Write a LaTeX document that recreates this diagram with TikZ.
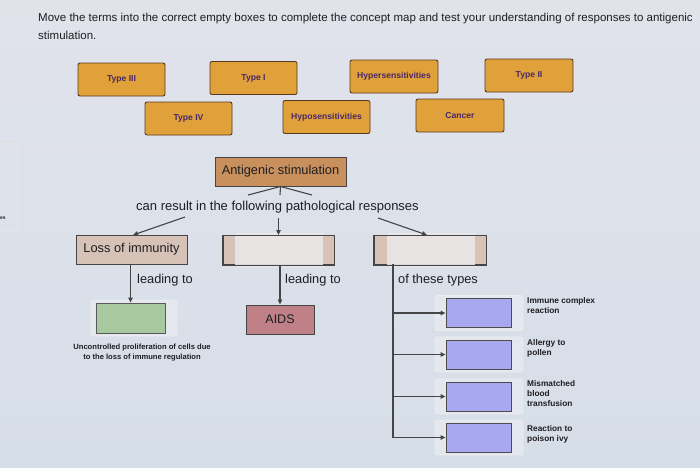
\documentclass[tikz,border=0pt]{standalone}
\usepackage{fontspec}
\setmainfont{Liberation Sans}
\usetikzlibrary{arrows.meta}
\definecolor{bgtop}{HTML}{E1E3EB}
\definecolor{bgbot}{HTML}{D6DEE8}
\definecolor{orangefill}{HTML}{E0A03A}
\definecolor{orangeline}{HTML}{5A3A1E}
\definecolor{orangetext}{HTML}{4A2866}
\definecolor{antfill}{HTML}{C8905C}
\definecolor{tanfill}{HTML}{D6C2B6}
\definecolor{emptyfill}{HTML}{EAE7E8}
\definecolor{greenfill}{HTML}{A8C8A0}
\definecolor{aidsfill}{HTML}{BF8088}
\definecolor{purplefill}{HTML}{A8A8F0}
\definecolor{framecol}{HTML}{E4E8EE}
\definecolor{linecol}{HTML}{454545}
\definecolor{txt}{HTML}{1E1E22}
\tikzset{
  x=1pt, y=-1pt,
  termbox/.style={draw=orangeline, line width=0.9pt, fill=orangefill, rounded corners=2pt,
    minimum width=87pt, minimum height=33pt, inner sep=0pt, text=orangetext,
    font=\fontsize{8.6}{10}\selectfont\bfseries},
  mapbox/.style={draw=linecol, line width=1pt, minimum height=29pt, inner sep=0pt, text=txt},
  conn/.style={draw=linecol, line width=1.1pt},
  arr/.style={conn, -{Triangle[length=5pt,width=4.5pt]}},
  frame/.style={draw=white!85!gray, fill=framecol, rounded corners=2pt, line width=0.6pt},
  side/.style={anchor=north west, align=left, text=txt, inner sep=0pt,
    font=\fontsize{8.3}{10}\selectfont\bfseries},
  lbl/.style={text=txt, inner sep=0pt, font=\fontsize{12.8}{14}\selectfont},
}
\begin{document}
\begin{tikzpicture}
\shade[top color=bgtop, bottom color=bgbot] (0,0) rectangle (700,467);
\useasboundingbox (0,0) rectangle (700,467);

% left edge UI fragment
\draw[draw=white!80!gray, line width=0.6pt] (-2,143) -- (17,143) -- (17,230) -- (-2,230);
\node[anchor=west, inner sep=0pt, font=\fontsize{5}{6}\selectfont\bfseries, text=txt] (es) at (0,218) {es};

% title
\node[anchor=north west, align=left, inner sep=0pt, text=txt,
  font=\fontsize{11.5}{18}\selectfont] (title) at (38,13)
  {Move the terms into the correct empty boxes to complete the concept map and test your understanding of responses to antigenic\\stimulation.};

% term boxes
\node[termbox] (t3) at (121.5,79.5) {Type III};
\node[termbox] (t1) at (253.5,78) {Type I};
\node[termbox, minimum width=88pt] (hyper) at (394,76.5) {Hypersensitivities};
\node[termbox, minimum width=88pt] (t2) at (529,75.5) {Type II};
\node[termbox] (t4) at (188.5,118.5) {Type IV};
\node[termbox] (hypo) at (326.5,117) {Hyposensitivities};
\node[termbox, minimum width=88pt] (cancer) at (460,115.5) {Cancer};

% antigenic stimulation
\node[mapbox, fill=antfill, minimum width=131pt, font=\fontsize{12.8}{14}\selectfont] (ant) at (280.5,171.5) {Antigenic stimulation};
\node[lbl, font=\fontsize{13}{15}\selectfont] (res) at (277.5,207) {can result in the following pathological responses};

\coordinate (jl) at (248,195);
\coordinate (jm) at (280,195);
\coordinate (jr) at (312,195);
\draw[conn] (ant.south) -- (jl);
\draw[conn] (ant.south) -- (jm);
\draw[conn] (ant.south) -- (jr);

% second row
\node[mapbox, fill=tanfill, minimum width=111pt, font=\fontsize{12.8}{14}\selectfont] (loss) at (131.5,249.5) {Loss of immunity};
\node[mapbox, fill=tanfill, minimum width=111pt] (mid) at (278.5,250) {};
\fill[emptyfill, opacity=0.9] (235,233) rectangle (323,267);
\node[mapbox, fill=tanfill, minimum width=112pt] (right) at (430,250) {};
\fill[emptyfill, opacity=0.9] (387,233) rectangle (475,267);
\draw[draw=linecol, line width=1pt] (mid.north west) rectangle (mid.south east);
\draw[draw=linecol, line width=1pt] (right.north west) rectangle (right.south east);

\coordinate (sl) at (185,217);
\coordinate (sm) at (278.5,218);
\coordinate (sr) at (378,218);
\draw[arr] (sl) -- (133,235);
\draw[arr] (sm) -- (mid.north);
\draw[arr] (sr) -- (427,235);

% third row left
\draw[frame] (91,300) rectangle (177,336);
\node[mapbox, fill=greenfill, draw=gray!70!black, minimum width=69pt, minimum height=30pt] (green) at (130.5,318) {};
\draw[arr] (loss.south -| green.north) -- (green.north);
\node[lbl, anchor=west] (lead1) at (137,280) {leading to};
\node[align=center, inner sep=0pt, text=txt, font=\fontsize{7.6}{10}\selectfont\bfseries] (cap) at (142,353)
  {Uncontrolled proliferation of cells due\\to the loss of immune regulation};

\node[mapbox, fill=aidsfill, minimum width=68pt, font=\fontsize{12.5}{14}\selectfont] (aids) at (280,319.5) {AIDS};
\draw[arr] (aids.north |- mid.south) -- (aids.north);
\node[lbl, anchor=west] (lead2) at (285,280) {leading to};

% types branch
\node[lbl, anchor=west] (types) at (398,280) {of these types};
\coordinate (trunk) at (393,264);
\coordinate (tb) at (393,438);
\draw[conn] (trunk) -- (tb);

\foreach \n/\yy in {p1/313, p2/354.5, p3/396.5, p4/437.5}{
  \draw[frame] (435,\yy-17.5) rectangle (523,\yy+17.5);
  \node[mapbox, fill=purplefill, draw=gray!60!black, minimum width=65pt, minimum height=29pt] (\n) at (478.5,\yy) {};
  \draw[arr] (trunk |- \n.west) -- (\n.west);
}

\node[side] (l1) at (527,297) {Immune complex\\reaction};
\node[side] (l2) at (527,339) {Allergy to\\pollen};
\node[side] (l3) at (527,380) {Mismatched\\blood\\transfusion};
\node[side] (l4) at (527,425) {Reaction to\\poison ivy};
\end{tikzpicture}
\end{document}
